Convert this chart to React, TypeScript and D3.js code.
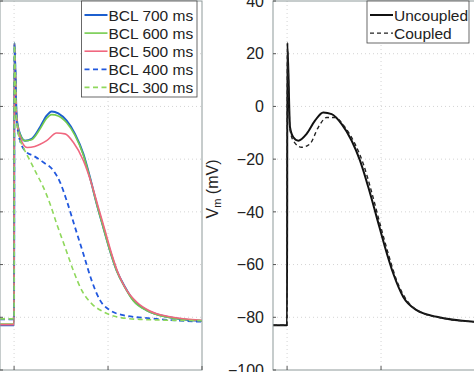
import * as d3 from 'd3';
import * as React from 'react';
import { useEffect, useRef } from 'react';

// time (ms) / membrane potential (mV) samples
const bcl700: number[][] = [[-30, -83], [0, -83], [0.6, 24.2], [5.5, -4.2], [12.6, -10.4], [23.2, -13], [37.4, -12.3], [55.1, -7.9], [69.3, -3.5], [80, -1.9], [94.1, -2.6], [111.9, -5.4], [129.6, -10.4], [147.4, -18], [161.5, -26.9], [175.8, -36.9], [189.8, -45.8], [204, -54.6], [218.3, -62.2], [236, -68.5], [253.7, -73.5], [282, -77.3], [324.7, -79.8], [400, -81.4]];
const bcl600: number[][] = [[-30, -82.6], [0, -82.6], [0.6, 24], [5.5, -4.4], [12.6, -10.6], [23.2, -13], [37.4, -12.6], [55.1, -8.6], [69.3, -4.5], [80, -3.1], [94.1, -3.6], [111.9, -6.2], [129.6, -11], [147.4, -18.4], [161.5, -27.1], [175.8, -37], [189.8, -45.9], [204, -54.8], [218.3, -62.4], [236, -68.7], [253.7, -73.7], [282, -77.4], [324.7, -79.9], [400, -81.3]];
const bcl500: number[][] = [[-30, -82.8], [0, -82.8], [0.6, 23.8], [5.5, -5], [12.6, -11.7], [28, -15.6], [44, -15.2], [69.3, -13], [90.6, -10.1], [108.3, -10.4], [126, -13.6], [147.4, -20.5], [165, -29.4], [179.2, -38.2], [193.4, -47], [207.6, -55.9], [221.8, -63.4], [239.5, -69.7], [260.9, -74.2], [289, -77.6], [331.7, -79.8], [400, -81.1]];
const bcl400: number[][] = [[-30, -80.8], [0, -80.8], [0.6, 23.5], [5.5, -5], [12.6, -13], [26.8, -17.4], [40.9, -18.7], [62.2, -21.2], [83.5, -24.3], [97.7, -28.7], [111.9, -35.7], [129.6, -45.8], [147.4, -55.9], [165, -66], [182.8, -73.5], [204, -77.3], [232, -79.2], [289, -80.4], [400, -81.7]];
const bcl300: number[][] = [[-30, -80.6], [0, -80.6], [0.6, 23.2], [4.5, -3], [9, -10.4], [19.6, -15.5], [33.8, -20.5], [48, -25.6], [62.2, -30.6], [76.4, -36.9], [90.6, -44.5], [108.3, -53.3], [126, -62.2], [143.8, -69.7], [165, -74.8], [189.8, -77.9], [218, -79.8], [268, -80.8], [400, -81.3]];

const uncoupled: number[][] = [[-30, -83], [0, -83], [0.5, 24.2], [6.2, -7.9], [13.3, -11.7], [23.9, -13], [41.6, -10.4], [59.4, -5.4], [77, -2.3], [94.9, -2.9], [116.2, -6.7], [137.5, -13], [155.1, -20.5], [172.8, -30.6], [190.7, -42], [208.3, -53.3], [226, -63.4], [247.3, -72.3], [275.8, -77.3], [318.4, -79.8], [400, -81.7]];
const coupled: number[][] = [[-30, -83], [0, -83], [0.6, 22], [6, -8.5], [13.3, -13], [31, -15.5], [48.7, -14.2], [66.4, -7.9], [84.3, -4.2], [101.9, -4.2], [123.2, -7.9], [144.5, -14.2], [162.2, -21.8], [180, -32.5], [197.7, -44.5], [215.4, -55.9], [233.2, -66], [254.5, -73.5], [282.8, -77.9], [332.4, -80.4], [400, -81.7]];

const leftNames = ['BCL 700 ms', 'BCL 600 ms', 'BCL 500 ms', 'BCL 400 ms', 'BCL 300 ms'];
const rightNames = ['Uncoupled', 'Coupled'];
const yTicks = [-100, -80, -60, -40, -20, 0, 20, 40];
const xTicks = [0, 200, 400];

export default function App() {
  const ref = useRef<SVGSVGElement | null>(null);

  useEffect(() => {
    document.body.style.margin = '0';
    const svg = d3.select(ref.current);
    svg.selectAll('*').remove();

    const top = 1;
    const bottom = 370;
    const pw = 202;
    const y = d3.scaleLinear().domain([-100, 40]).range([bottom, top]);
    const font = '"Liberation Sans", Arial, sans-serif';

    const drawPanel = (x0: number, series: any[], names: string[], legend: any, showY: boolean) => {
      const x = d3.scaleLinear().domain([-30, 400]).range([x0, x0 + pw]);
      const g = svg.append('g');
      const grid = '#d4d4d4';

      g.selectAll('.hg').data(yTicks.slice(1, -1)).enter().append('line')
        .attr('x1', x0).attr('x2', x0 + pw)
        .attr('y1', (d) => y(d)).attr('y2', (d) => y(d))
        .attr('stroke', grid).attr('stroke-dasharray', '1,3');
      g.selectAll('.vg').data(xTicks.slice(0, -1)).enter().append('line')
        .attr('x1', (d) => x(d)).attr('x2', (d) => x(d))
        .attr('y1', top).attr('y2', bottom)
        .attr('stroke', grid).attr('stroke-dasharray', '1,3');

      const clipId = 'clip' + x0;
      svg.append('clipPath').attr('id', clipId).append('rect')
        .attr('x', x0).attr('y', top).attr('width', pw).attr('height', bottom - top);

      const line = d3.line<number[]>().x((d) => x(d[0])).y((d) => y(d[1])).curve(d3.curveMonotoneX);
      g.append('g').attr('clip-path', `url(#${clipId})`)
        .selectAll('path').data(series).enter().append('path')
        .attr('d', (s: any) => line(s.data))
        .attr('fill', 'none')
        .attr('stroke', (s: any) => s.color)
        .attr('stroke-width', (s: any) => s.width)
        .attr('stroke-dasharray', (s: any) => s.dash);

      // axes box
      g.append('rect').attr('x', x0).attr('y', top).attr('width', pw).attr('height', bottom - top)
        .attr('fill', 'none').attr('stroke', '#8e9999').attr('stroke-width', 1);

      const axisColor = '#555';
      g.selectAll('.xt').data(xTicks).enter().append('line')
        .attr('x1', (d) => x(d)).attr('x2', (d) => x(d))
        .attr('y1', bottom).attr('y2', bottom - 4).attr('stroke', axisColor);
      g.selectAll('.yt').data(yTicks).enter().append('line')
        .attr('x1', x0).attr('x2', x0 + 3)
        .attr('y1', (d) => y(d)).attr('y2', (d) => y(d)).attr('stroke', axisColor);

      if (showY) {
        g.selectAll('.yl').data(yTicks).enter().append('text')
          .attr('x', x0 - 9).attr('y', (d) => y(d)).attr('dy', '0.36em')
          .attr('text-anchor', 'end').attr('font-family', font).attr('font-size', 16)
          .attr('fill', '#222')
          .text((d) => (d < 0 ? '\u2212' + Math.abs(d) : String(d)));
        const lab = g.append('text')
          .attr('transform', `translate(${x0 - 55},${189}) rotate(-90)`)
          .attr('text-anchor', 'middle').attr('font-family', font).attr('font-size', 16)
          .attr('fill', '#222');
        lab.append('tspan').text('V');
        lab.append('tspan').attr('font-size', 11).attr('dy', 3).text('m');
        lab.append('tspan').attr('dy', -3).text(' (mV)');
      }

      // legend
      const lg = g.append('g');
      lg.append('rect').attr('x', legend.x).attr('y', legend.y)
        .attr('width', legend.w).attr('height', names.length * 18 + 6)
        .attr('fill', '#fff').attr('stroke', '#444').attr('stroke-width', 0.8);
      names.forEach((n, i) => {
        const ly = legend.y + 14 + i * 18.1;
        lg.append('line').attr('x1', legend.x + 3).attr('x2', legend.x + 26)
          .attr('y1', ly).attr('y2', ly)
          .attr('stroke', series[i].color).attr('stroke-width', series[i].width)
          .attr('stroke-dasharray', series[i].dash);
        lg.append('text').attr('x', legend.x + 27).attr('y', ly).attr('dy', '0.36em')
          .attr('font-family', font).attr('font-size', 15.5).attr('fill', '#222').text(n);
      });
    };

    drawPanel(0, [
      { data: bcl700, color: '#1c5fcf', width: 2, dash: null },
      { data: bcl600, color: '#74cc4e', width: 1.6, dash: null },
      { data: bcl500, color: '#f0677f', width: 1.6, dash: null },
      { data: bcl400, color: '#2158de', width: 1.8, dash: '5,3.5' },
      { data: bcl300, color: '#8fd85c', width: 1.6, dash: '5,3.5' },
    ], leftNames, { x: 81.5, y: 1, w: 115.5 }, false);

    drawPanel(273, [
      { data: uncoupled, color: '#111', width: 2, dash: null },
      { data: coupled, color: '#222', width: 1.4, dash: '4,3' },
    ], rightNames, { x: 367, y: 1, w: 102 }, true);
  }, []);

  return <svg ref={ref} width={474} height={372} style={{ display: 'block', background: '#fff' }} />;
}
